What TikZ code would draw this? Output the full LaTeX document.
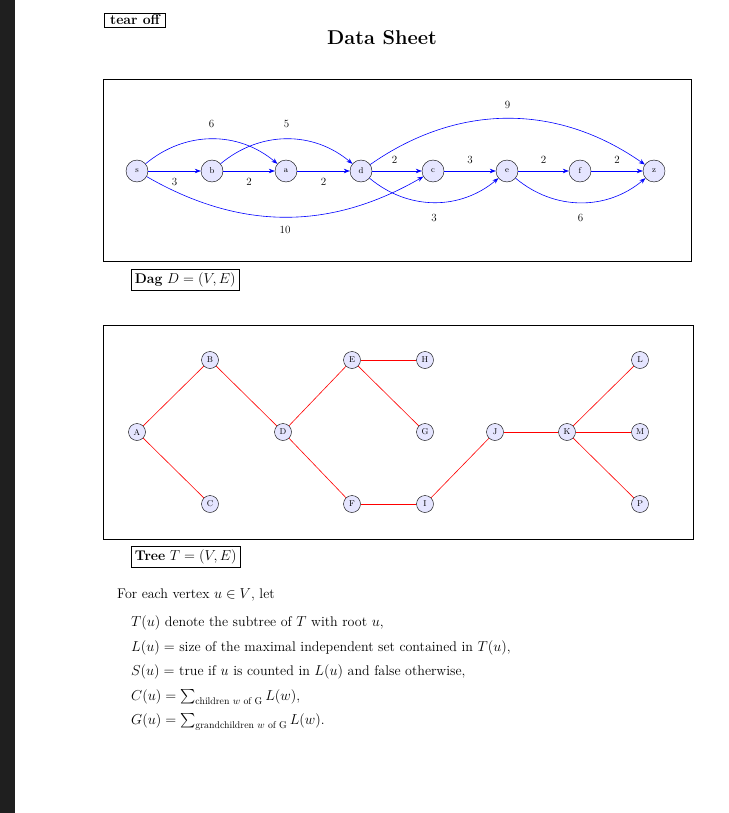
\documentclass[tikz,border=0pt]{standalone}
\usepackage{amsmath}
\usetikzlibrary{arrows.meta}
\begin{document}
\begin{tikzpicture}[x=1pt,y=-1pt,
  dn/.style={circle,draw,fill=blue!10,minimum size=22pt,inner sep=0pt,font=\fontsize{8.5}{9}\selectfont},
  tn/.style={circle,draw,fill=blue!10,minimum size=17pt,inner sep=0pt,font=\fontsize{8.5}{9}\selectfont},
  de/.style={blue,semithick,-{Stealth[length=6pt]}},
  te/.style={red,semithick},
  wl/.style={black,font=\fontsize{11}{13}\selectfont},
  lab/.style={draw,thick,inner sep=3.5pt,font=\fontsize{14}{16}\selectfont}]
\useasboundingbox (0,0) rectangle (728,813);
\fill[white] (0,0) rectangle (728,813);
\fill[black!88] (0,0) rectangle (15,813);
\node[draw,thick,inner xsep=6pt,inner ysep=2pt,font=\fontsize{14}{16}\selectfont\bfseries] (tear) at (135,20) {tear off};
\node[font=\fontsize{20}{23}\selectfont\bfseries] (title) at (382,38) {Data Sheet};
% DAG
\draw (103,79) rectangle (691,261);
\node[dn] (s) at (137,171) {s};
\node[dn] (b) at (212,171) {b};
\node[dn] (a) at (286,171) {a};
\node[dn] (d) at (361,171) {d};
\node[dn] (c) at (433,171) {c};
\node[dn] (e) at (507,171) {e};
\node[dn] (f) at (580,171) {f};
\node[dn] (z) at (654,171) {z};
\draw[de] (s) -- node[wl,below=4pt,pos=0.5] {3} (b);
\draw[de] (b) -- node[wl,below=4pt] {2} (a);
\draw[de] (a) -- node[wl,below=4pt] {2} (d);
\draw[de] (d) -- node[wl,above=4pt,pos=0.45] {2} (c);
\draw[de] (c) -- node[wl,above=4pt] {3} (e);
\draw[de] (e) -- node[wl,above=4pt] {2} (f);
\draw[de] (f) -- node[wl,above=4pt] {2} (z);
\draw[de] (s) to[bend left=40] node[wl,above=8pt] {6} (a);
\draw[de] (b) to[bend left=40] node[wl,above=8pt] {5} (d);
\draw[de] (d) to[bend left=35] node[wl,above=6pt] {9} (z);
\draw[de] (s) to[bend right=30] node[wl,below=6pt] {10} (c);
\draw[de] (d) to[bend right=40] node[wl,below=8pt] {3} (e);
\draw[de] (e) to[bend right=40] node[wl,below=8pt] {6} (z);
\node[lab,anchor=west] (dl) at (131,280) {\textbf{Dag} $D=(V,E)$};
% Tree
\draw (103,325) rectangle (693,539);
\node[tn] (A) at (137,432) {A};
\node[tn] (B) at (210,360) {B};
\node[tn] (C) at (210,504) {C};
\node[tn] (D) at (283,432) {D};
\node[tn] (E) at (352,360) {E};
\node[tn] (H) at (425,360) {H};
\node[tn] (G) at (425,432) {G};
\node[tn] (F) at (352,504) {F};
\node[tn] (I) at (425,504) {I};
\node[tn] (J) at (495,432) {J};
\node[tn] (K) at (567,432) {K};
\node[tn] (L) at (640,360) {L};
\node[tn] (M) at (640,432) {M};
\node[tn] (P) at (640,504) {P};
\foreach \u/\v in {A/B,A/C,B/D,D/E,D/F,E/H,E/G,F/I,I/J,J/K,K/L,K/M,K/P}
  \draw[te] (\u) -- (\v);
\node[lab,anchor=west] (tl) at (131,557) {\textbf{Tree} $T=(V,E)$};
% text
\begin{scope}[every node/.style={anchor=base west,inner sep=0pt,font=\fontsize{14}{17}\selectfont}]
\node (t0) at (117,598) {For each vertex $u\in V$, let};
\node (t1) at (131,626) {$T(u)$ denote the subtree of $T$ with root $u$,};
\node (t2) at (131,651) {$L(u)=$ size of the maximal independent set contained in $T(u)$,};
\node (t3) at (131,675) {$S(u)=$ true if $u$ is counted in $L(u)$ and false otherwise,};
\node (t4) at (131,700) {$C(u)=\sum_{\text{children } w \text{ of G}} L(w)$,};
\node (t5) at (131,724) {$G(u)=\sum_{\text{grandchildren } w \text{ of G}} L(w)$.};
\end{scope}
\end{tikzpicture}
\end{document}
